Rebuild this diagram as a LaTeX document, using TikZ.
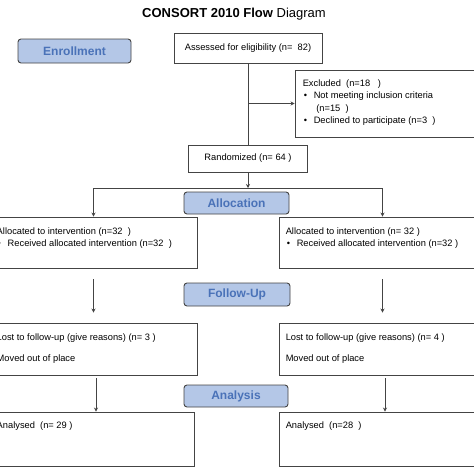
\documentclass[tikz,border=0pt]{standalone}
\usepackage{fontspec}
\setmainfont{Liberation Sans}
\usetikzlibrary{arrows.meta, positioning}
\definecolor{stagefill}{HTML}{B4C7E7}
\definecolor{stagetext}{HTML}{4A72B8}
\definecolor{edge}{HTML}{444444}
\tikzset{
	block/.style={draw=edge, line width=0.9pt},
	stage/.style={draw=edge, line width=0.9pt, fill=stagefill, rounded corners=3pt},
	stagelabel/.style={text=stagetext, font=\fontsize{12}{14}\selectfont\bfseries},
	boxtext/.style={anchor=north west, align=left, inner sep=0pt, font=\fontsize{9.3}{12.5}\selectfont},
	flow/.style={draw=edge, line width=0.8pt, -{Stealth[length=4pt, width=4pt]}}
}
\newcommand{\bul}{\makebox[11pt][l]{\hspace{1pt}\textbullet}}

\begin{document}
\begin{tikzpicture}[x=1pt, y=-1pt]
		\clip (0,0) rectangle (474,474);
		\fill[white] (0,0) rectangle (474,474);
		
		\node at (234,14) {\fontsize{13}{15}\selectfont\textbf{CONSORT 2010 Flow} Diagram};
		
		% stage labels
		\node[stage, minimum width=113pt, minimum height=24pt] (enroll) at (74.5,51) {};
		\node[stagelabel] at (enroll) {Enrollment};
		
		\node[stage, minimum width=105pt, minimum height=22pt] (allocation) at (236.5,203) {};
		\node[stagelabel] at (allocation) {Allocation};
		
		\node[stage, minimum width=106pt, minimum height=23pt] (followup) at (237,294.5) {};
		\node[stagelabel] at (followup) {Follow-Up};
		
		\node[stage, minimum width=104pt, minimum height=22pt] (analysis) at (236,396) {};
		\node[stagelabel] at (analysis) {Analysis};
		
		% enrollment
		\node[block, minimum width=148pt, minimum height=30pt] (assess) at (248,48) {};
		\node[font=\fontsize{9.3}{12.5}\selectfont] at (assess) {Assessed for eligibility (n=\ \ 82)};
		
		\node[block, minimum width=195pt, minimum height=67pt] (excl) at (392.5,103.5) {};
		\node[boxtext] at ([xshift=8pt,yshift=-10pt]excl.north west) {Excluded\ \ (n=18\ \ \ )\\
			\bul Not meeting inclusion criteria\\
			\hspace{11pt}\ (n=15\ \ )\\
			\bul Declined to participate (n=3\ \ )};
		
		\node[block, minimum width=119pt, minimum height=27pt] (rand) at (248,158.5) {};
		\node[font=\fontsize{9.3}{12.5}\selectfont] at (rand) {Randomized (n= 64 )};
		
		% allocation
		\node[block, minimum width=207pt, minimum height=51pt] (allocL) at (93.5,242.5) {};
		\node[boxtext] at ([xshift=7pt,yshift=-11pt]allocL.north west) {Allocated to intervention (n=32\ \ )\\
			\bul Received allocated intervention (n=32\ \ )};
		
		\node[block, minimum width=207pt, minimum height=51pt] (allocR) at (382.5,242.5) {};
		\node[boxtext] at ([xshift=7pt,yshift=-11pt]allocR.north west) {Allocated to intervention (n= 32 )\\
			\bul Received allocated intervention (n=32 )};
		
		% follow-up
		\node[block, minimum width=207pt, minimum height=52pt] (lostL) at (93.5,349) {};
		\node[boxtext] at ([xshift=7pt,yshift=-11pt]lostL.north west) {Lost to follow-up (give reasons) (n= 3 )\\[9pt]
			Moved out of place};
		
		\node[block, minimum width=207pt, minimum height=52pt] (lostR) at (382.5,349) {};
		\node[boxtext] at ([xshift=7pt,yshift=-11pt]lostR.north west) {Lost to follow-up (give reasons) (n= 4 )\\[9pt]
			Moved out of place};
		
		% analysis
		\node[block, minimum width=204pt, minimum height=54pt] (anaL) at (92,439) {};
		\node[boxtext] at ([xshift=7pt,yshift=-10pt]anaL.north west) {Analysed\ \ (n= 29 )};
		
		\node[block, minimum width=207pt, minimum height=54pt] (anaR) at (382.5,439) {};
		\node[boxtext] at ([xshift=7pt,yshift=-10pt]anaR.north west) {Analysed\ \ (n=28\ \ )};
		
		\coordinate (split) at (248,188);
		
		\draw[draw=edge, line width=0.8pt] (assess.south) -- (rand.north);
		\draw[flow] (assess.south |- excl.west) -- (excl.west);
		\draw[flow] (rand.south) -- (split);
		\draw[flow] (split) -| (allocL.north);
		\draw[flow] (split) -| (allocR.north);
		\draw[flow] ([yshift=-11pt]allocL.south) -- ([yshift=10pt]lostL.north);
		\draw[flow] ([yshift=-11pt]allocR.south) -- ([yshift=10pt]lostR.north);
		\draw[flow] ([xshift=2.5pt,yshift=-3pt]lostL.south) -- ([xshift=4pt]anaL.north);
		\draw[flow] ([xshift=2.5pt,yshift=-3pt]lostR.south) -- ([xshift=2.5pt]anaR.north);
	\end{tikzpicture}
\end{document}
